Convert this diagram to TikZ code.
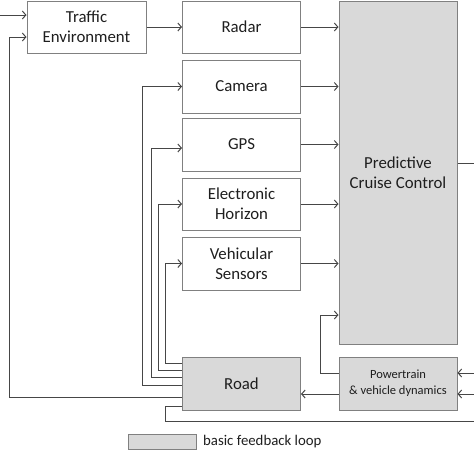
\documentclass[tikz,border=0pt]{standalone}
\usepackage{fontspec}
\setmainfont{Carlito}
\usetikzlibrary{arrows.meta,calc}
\definecolor{loopgray}{RGB}{217,217,217}
\definecolor{boxline}{RGB}{128,128,128}
\definecolor{wire}{RGB}{70,70,70}
\definecolor{ink}{RGB}{30,30,30}
\begin{document}
\begin{tikzpicture}[x=1pt,y=-1pt,
	block/.style={draw=boxline,line width=1pt,rectangle,minimum width=118pt,minimum height=53pt,inner sep=0pt,align=center,text=ink,font=\fontsize{16.8}{20}\selectfont},
	loopbox/.style={block,fill=loopgray},
	link/.style={draw=wire,line width=1pt,-{Straight Barb[length=3.5pt,width=8pt]}},
	wireline/.style={draw=wire,line width=1pt}]
	\useasboundingbox (0,0) rectangle (474,459);
	\node [block,minimum width=119pt,minimum height=52pt] (traffic) at (86.5,27) {Traffic\\Environment};
	\node [block,minimum height=52pt] (radar) at (241.5,27) {Radar};
	\node [block] (cam) at (241.5,86.5) {Camera};
	\node [block] (gps) at (241.5,144.5) {GPS};
	\node [block,minimum height=52pt] (eh) at (241.5,204) {Electronic\\Horizon};
	\node [block] (vs) at (241.5,263.5) {Vehicular\\Sensors};
	\node [loopbox] (road) at (241.5,383.5) {Road};
	\node [loopbox,minimum height=343pt] (pcc) at (398,172.5) {Predictive\\Cruise Control};
	\node [loopbox,font=\fontsize{12.5}{16}\selectfont] (pt) at (398,383.5) {Powertrain\\\& vehicle dynamics};
	\node [draw=boxline,line width=1pt,fill=loopgray,minimum width=68pt,minimum height=15pt,inner sep=0pt] (key) at (162.5,442) {};
	\node [anchor=west,inner sep=0pt,text=ink,font=\fontsize{14.8}{17}\selectfont] (keytext) at (203,442) {basic feedback loop};
	\coordinate (in1) at (0,15);
	\coordinate (in2) at (474,373);
	\coordinate (in3) at (474,394);
	\coordinate (out1) at (474,163);
	\coordinate (out2) at (474,421);
	\draw [link] (in1) -- (in1 -| traffic.west);
	\draw [link] (traffic.east) -- (radar.west);
	\draw [link] (radar.east) -- (radar.east -| pcc.west);
	\draw [link] (cam.east) -- (cam.east -| pcc.west);
	\draw [link] (gps.east) -- (gps.east -| pcc.west);
	\draw [link] (eh.east) -- (eh.east -| pcc.west);
	\draw [link] (vs.east) -- (vs.east -| pcc.west);
	\draw [link] ($(road.west)+(0,-20.5)$) -- ++(-17,0) |- (vs.west);
	\draw [link] ($(road.west)+(0,-13.5)$) -- ++(-24,0) |- (eh.west);
	\draw [link] ($(road.west)+(0,-6.5)$) -- ++(-31,0) |- ($(gps.west)+(0,3.5)$);
	\draw [link] ($(road.west)+(0,1.5)$) -- ++(-40,0) |- (cam.west);
	\draw [link] ($(road.west)+(0,13.5)$) -- ++(-173,0) |- ($(traffic.west)+(0,10)$);
	\draw [wireline] ($(road.west)+(0,22.5)$) -- ++(-17,0) |- (out2);
	\draw [wireline] (pcc.east |- out1) -- (out1);
	\draw [link] (in2) -- (in2 -| pt.east);
	\draw [link] (in3) -- (in3 -| pt.east);
	\draw [link] ($(pt.west)+(0,-10)$) -- ++(-18,0) |- ($(pcc.west)+(0,142.5)$);
	\draw [link] ($(pt.west)+(0,10.5)$) -- ($(road.east)+(0,10.5)$);
\end{tikzpicture}
\end{document}
